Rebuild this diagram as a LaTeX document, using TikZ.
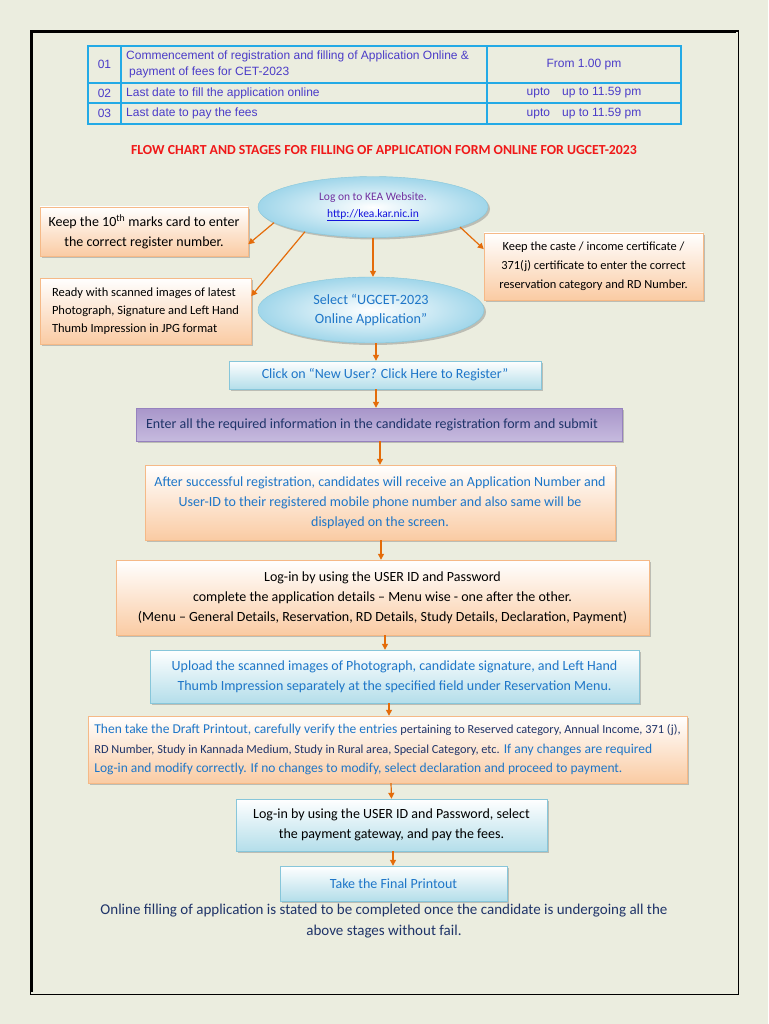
\documentclass[tikz,border=0pt]{standalone}
\usepackage{fontspec}
\setmainfont{Carlito}
\newfontfamily\tablefont{Liberation Sans}
\usepackage{tikz}
\usetikzlibrary{shapes.geometric, arrows.meta, positioning, shadows}

\definecolor{pagebg}{RGB}{235,237,223}
\definecolor{tableline}{RGB}{35,170,230}
\definecolor{tabletext}{RGB}{75,60,200}
\definecolor{titlered}{RGB}{240,25,25}
\definecolor{arroworange}{RGB}{228,108,10}
\definecolor{textblue}{RGB}{30,118,200}
\definecolor{navy}{RGB}{31,52,105}
\definecolor{linkblue}{RGB}{20,20,220}
\definecolor{ovalpurple}{RGB}{112,48,160}
\definecolor{peach}{RGB}{250,203,163}
\definecolor{peachline}{RGB}{245,185,135}
\definecolor{paleblue}{RGB}{180,222,234}
\definecolor{blueline}{RGB}{135,198,218}
\definecolor{ovalblue}{RGB}{160,214,234}
\definecolor{lilactop}{RGB}{168,150,202}
\definecolor{lilacmid}{RGB}{240,236,246}
\definecolor{lilacbot}{RGB}{198,186,222}
\definecolor{lilacline}{RGB}{150,130,190}

\begin{document}
\begin{tikzpicture}[x=1pt, y=-1pt, >=Stealth,
    font=\fontsize{14}{20}\selectfont,
    boxshadow/.style={drop shadow={shadow xshift=2pt, shadow yshift=-2pt, opacity=0.35, fill=black!60}},
    orangebox/.style={rectangle, draw=peachline, top color=white, bottom color=peach, boxshadow, align=center, inner sep=3pt},
    bluebox/.style={rectangle, draw=blueline, top color=white, bottom color=paleblue, boxshadow, align=center, inner sep=3pt},
    lilacbox/.style={rectangle, draw=lilacline, top color=lilactop, middle color=lilacmid, bottom color=lilacbot, boxshadow, align=left, inner sep=3pt},
    oval/.style={ellipse, draw=blueline, inner color=white, outer color=ovalblue, boxshadow, align=center, inner sep=0pt},
    flow/.style={-{Triangle[length=6pt, width=6pt]}, draw=arroworange, line width=1.2pt},
    cell/.style={font=\tablefont\fontsize{12}{16}\selectfont, text=tabletext, inner sep=0pt}]

  % page and frame
  \fill[pagebg] (0,0) rectangle (768,1024);
  \useasboundingbox (0,0) rectangle (768,1024);
  \draw[line width=3pt] (31,32) rectangle (737,993);
  \draw[pagebg, line width=1.1pt] (31,993) -- (737,993) -- (737,32);

  % time table
  \draw[tableline, line width=1.8pt] (88,46) rectangle (681,124);
  \draw[tableline, line width=1.4pt] (121,46) -- (121,124) (487,46) -- (487,124)
    (88,83) -- (681,83) (88,103) -- (681,103);
  \node[cell] (num1) at (104.5,64.5) {01};
  \node[cell] (num2) at (104.5,93) {02};
  \node[cell] (num3) at (104.5,113.5) {03};
  \node[cell, anchor=west, align=left] (desc1) at (126,64.5) {Commencement of registration and filling of Application Online \&\\ \hspace{3pt}payment of fees for CET-2023};
  \node[cell, anchor=west] (desc2) at (126,93) {Last date to fill the application online};
  \node[cell, anchor=west] (desc3) at (126,113.5) {Last date to pay the fees};
  \node[cell] (time1) at (584,64.5) {From 1.00 pm};
  \node[cell] (time2) at (584,93) {upto\quad up to 11.59 pm};
  \node[cell] (time3) at (584,113.5) {upto\quad up to 11.59 pm};

  \node[text=titlered, font=\bfseries\fontsize{13.8}{16}\selectfont] (title) at (384,150) {FLOW CHART AND STAGES FOR FILLING OF APPLICATION FORM ONLINE FOR UGCET-2023};

  % first level
  \node[oval, minimum width=230pt, minimum height=61pt, font=\fontsize{11.5}{16.5}\selectfont] (logon) at (373,207)
    {\textcolor{ovalpurple}{Log on to KEA Website.}\\ \textcolor{linkblue}{\underline{http://kea.kar.nic.in}}};
  \node[orangebox, minimum width=208pt, minimum height=49pt] (keep10) at (144,231.5)
    {Keep the 10\textsuperscript{th} marks card to enter\\ the correct register number.};
  \node[orangebox, minimum width=211pt, minimum height=66pt, align=left, font=\fontsize{12.5}{18}\selectfont] (scans) at (145.5,311)
    {Ready with scanned images of latest\\ Photograph, Signature and Left Hand\\ Thumb Impression in JPG format};
  \node[orangebox, minimum width=219pt, minimum height=67pt, font=\fontsize{12.4}{19}\selectfont] (caste) at (593.5,266.5)
    {Keep the caste / income certificate /\\ 371(j) certificate to enter the correct\\ reservation category and RD Number.};
  \node[oval, minimum width=226pt, minimum height=66pt, text=textblue, font=\fontsize{14.2}{19.5}\selectfont] (select) at (371,310)
    {Select “UGCET-2023\\ Online Application”};

  % registration steps
  \node[bluebox, minimum width=312pt, minimum height=28pt, text=textblue] (newuser) at (385,375)
    {Click on “New User? Click Here to Register”};
  \node[lilacbox, minimum width=486pt, minimum height=33pt, text=navy] (enterinfo) at (379,424.5)
    {Enter all the required information in the candidate registration form and submit\hspace*{14pt}};
  \node[orangebox, minimum width=470pt, minimum height=75pt, text=textblue] (appnum) at (380,502.5)
    {After successful registration, candidates will receive an Application Number and\\ User-ID to their registered mobile phone number and also same will be\\ displayed on the screen.};
  \node[orangebox, minimum width=533pt, minimum height=75pt] (login) at (382.5,597.5)
    {Log-in by using the USER ID and Password\\ complete the application details – Menu wise - one after the other.\\ (Menu – General Details, Reservation, RD Details, Study Details, Declaration, Payment)};
  \node[bluebox, minimum width=489pt, minimum height=53pt, text=textblue] (upload) at (394.5,676.5)
    {Upload the scanned images of Photograph, candidate signature, and Left Hand\\ Thumb Impression separately at the specified field under Reservation Menu.};
  \node[orangebox, minimum width=599pt, minimum height=67pt, align=left, font=\fontsize{13.5}{19.5}\selectfont] (draft) at (387.5,749.5)
    {\textcolor{textblue}{Then take the Draft Printout, carefully verify the entries} \textcolor{navy}{\fontsize{12.3}{19.5}\selectfont pertaining to Reserved category, Annual Income, 371 (j),}\\
     \textcolor{navy}{\fontsize{12.3}{19.5}\selectfont RD Number, Study in Kannada Medium, Study in Rural area, Special Category, etc.} \textcolor{textblue}{If any changes are required}\\
     \textcolor{textblue}{Log-in and modify correctly. If no changes to modify, select declaration and proceed to payment.}};
  \node[bluebox, minimum width=311pt, minimum height=52pt] (payfees) at (391.5,825)
    {Log-in by using the USER ID and Password, select\\ the payment gateway, and pay the fees.};
  \node[bluebox, minimum width=227pt, minimum height=35pt, text=textblue] (final) at (393.5,883.5)
    {Take the Final Printout};
  \node[text=navy, align=center, font=\fontsize{15}{21}\selectfont] (footer) at (384,921)
    {Online filling of application is stated to be completed once the candidate is undergoing all the\\ above stages without fail.};

  % connectors
  \draw[flow] (logon.189) -- (keep10.-7);
  \draw[flow] (logon.200) -- (scans.8);
  \draw[flow] (logon.south) -- (select.north -| logon.south);
  \draw[flow] (logon.-13) -- (caste.171);
  \draw[flow] (select.south -| 376,0) -- (newuser.north -| 376,0);
  \draw[flow] (newuser.south -| 376,0) -- (enterinfo.north -| 376,0);
  \draw[flow] (enterinfo.south -| 380,0) -- (appnum.north);
  \draw[flow] (appnum.south -| 381,0) -- (login.north -| 381,0);
  \draw[flow] (login.south -| 385,0) -- (upload.north -| 385,0);
  \draw[flow] (upload.south -| 389,0) -- (draft.north -| 389,0);
  \draw[flow] (draft.south -| 391,0) -- (payfees.north);
  \draw[flow] (payfees.south -| 393,0) -- (final.north -| 393,0);
\end{tikzpicture}
\end{document}
